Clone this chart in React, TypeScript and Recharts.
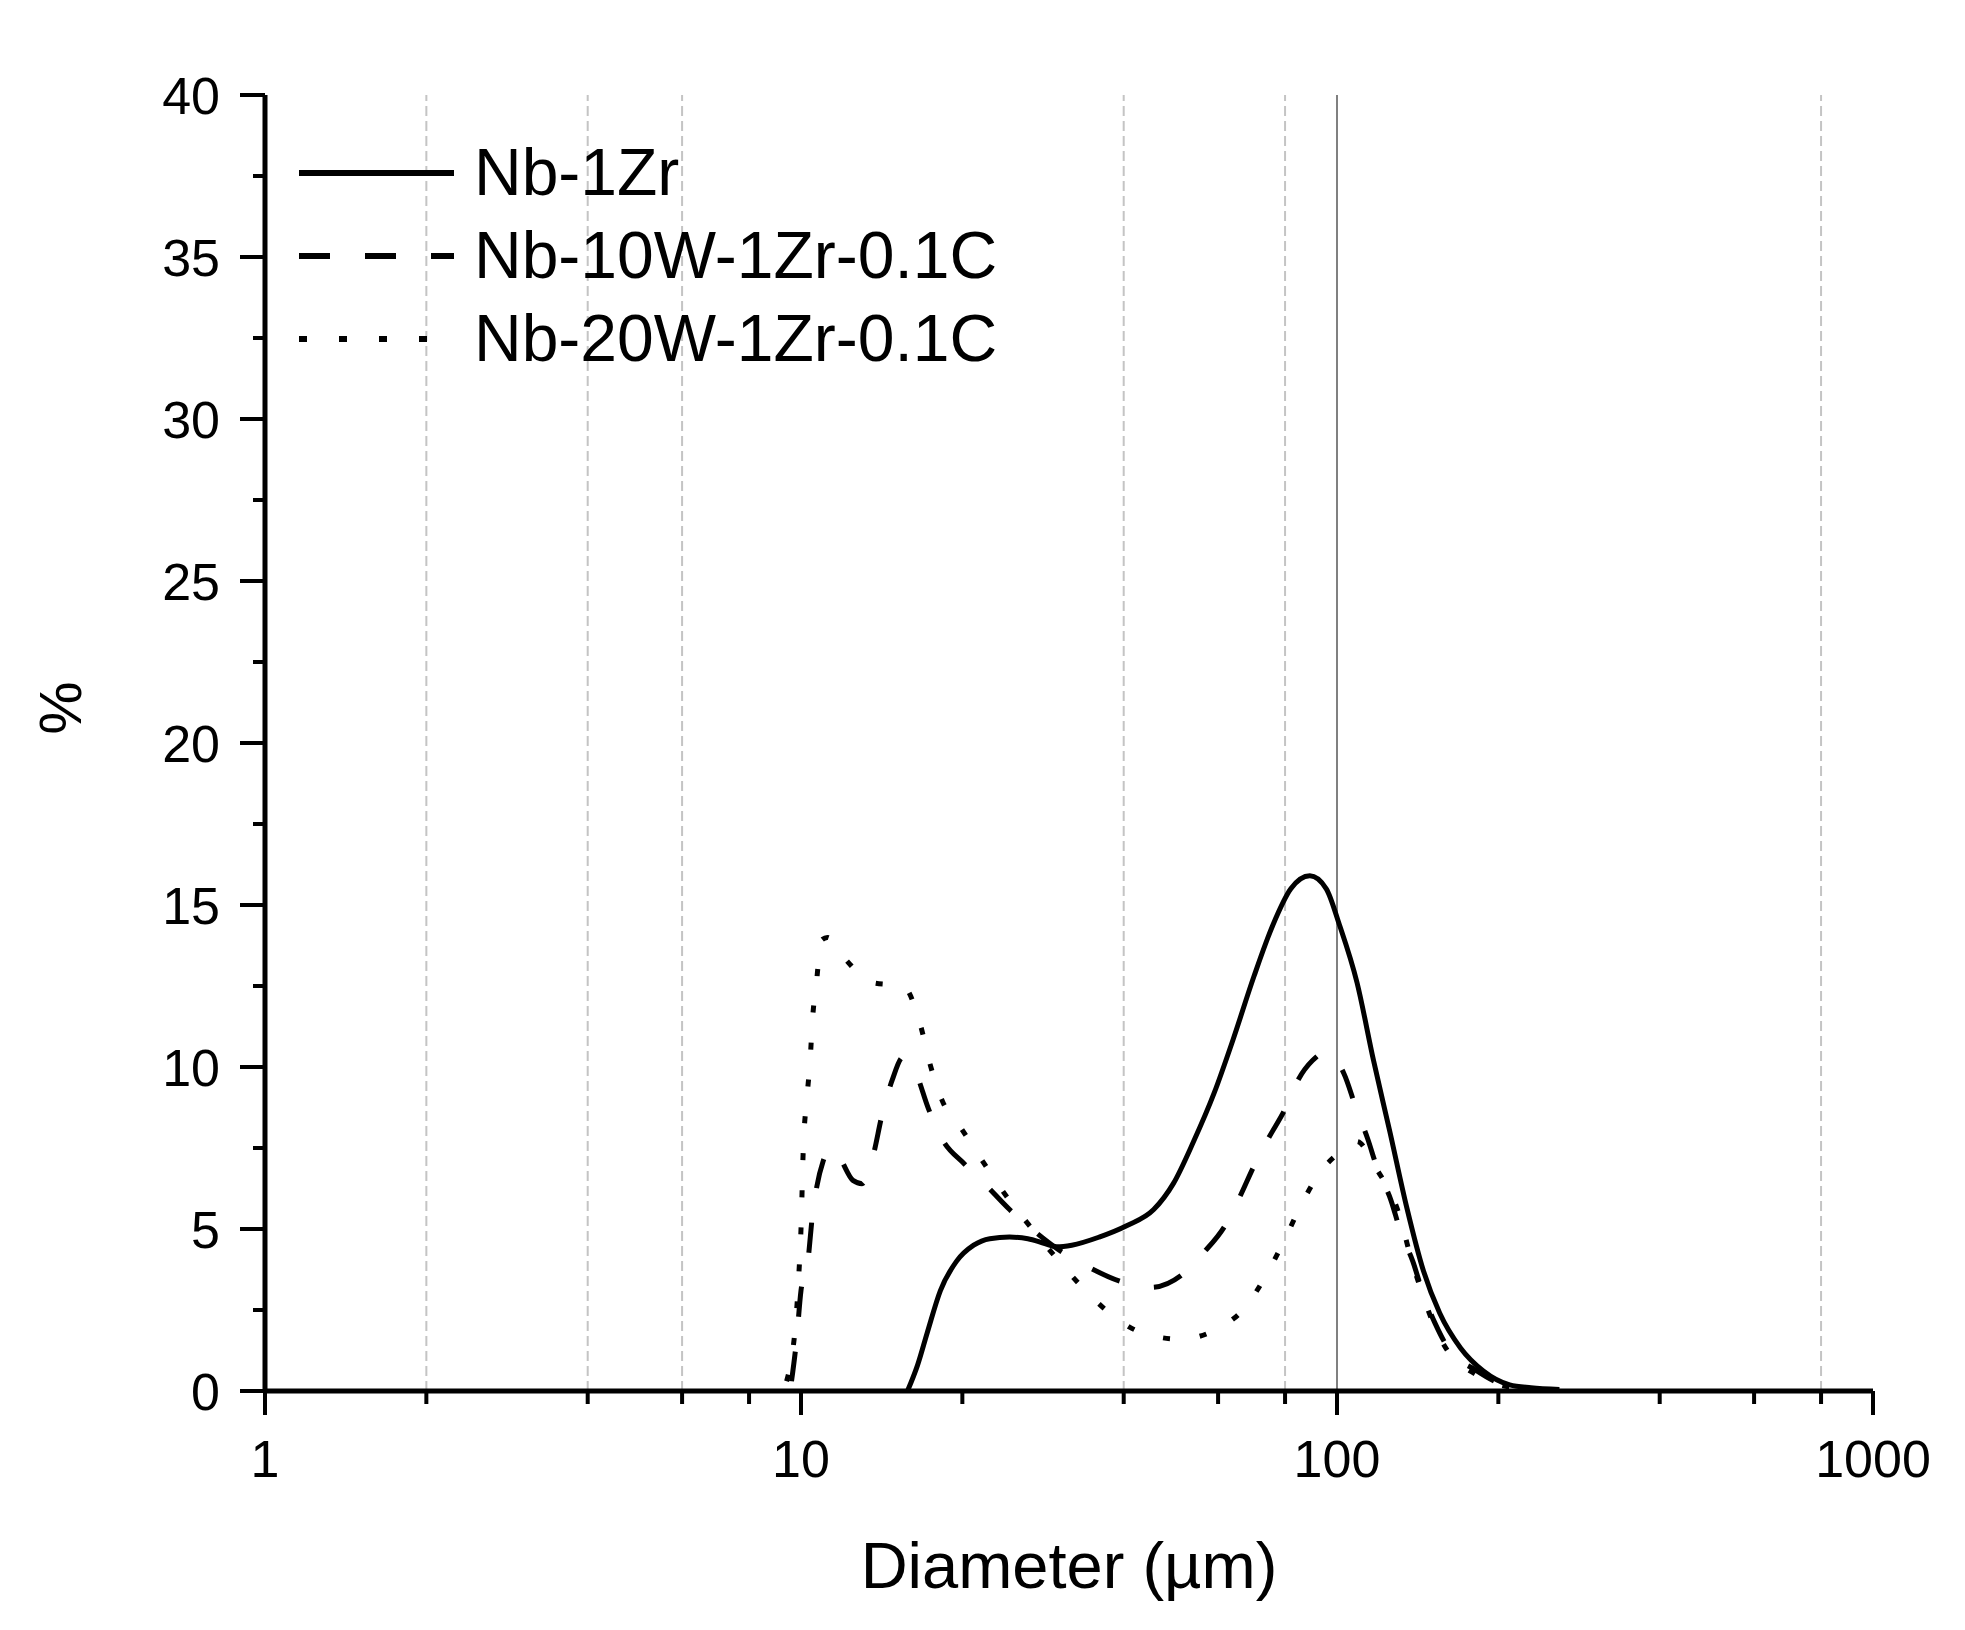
import { LineChart, Line, XAxis, YAxis, ReferenceLine, Legend, Label } from "recharts";

const FONT = "Arial, 'Liberation Sans', sans-serif";

// particle size distribution, diameter (µm) vs volume %
const nb1ZrD = [15.8, 16.5, 17.2, 18.2, 19.5, 21, 22.5, 24.5, 26.5, 28.5, 30, 32, 36, 40.5, 45.5, 49.5, 54, 59, 64, 70, 76, 82, 89, 95.5, 101, 109, 117, 125.5, 135, 145, 155.5, 170, 187.5, 210, 230, 260];
const nb1ZrV = [0, 0.8, 1.8, 3.1, 4.0, 4.5, 4.7, 4.75, 4.7, 4.55, 4.45, 4.5, 4.75, 5.1, 5.6, 6.4, 7.7, 9.2, 10.85, 12.8, 14.4, 15.5, 15.9, 15.5, 14.4, 12.6, 10.2, 8.0, 5.65, 3.7, 2.4, 1.33, 0.62, 0.19, 0.1, 0.05];

const nb10WD = [9.6, 9.8, 10, 10.3, 10.5, 10.7, 11, 11.3, 11.8, 12.5, 13, 13.6, 14.2, 14.8, 15.5, 16.3, 17.3, 18.3, 20.2, 22, 24.5, 27.4, 30, 34.6, 40, 45, 51.5, 56.3, 61.8, 65.9, 69.8, 74.5, 80, 84.6, 90, 95, 103, 108.7, 114, 119, 126, 131.5, 138.5, 145, 152.5, 163, 180, 200, 230];
const nb10WV = [0.3, 1.5, 3.1, 4.0, 5.4, 6.3, 7.1, 7.5, 7.2, 6.5, 6.4, 7.2, 8.6, 9.6, 10.3, 9.9, 8.7, 7.8, 7.0, 6.4, 5.6, 4.9, 4.4, 3.8, 3.35, 3.2, 3.6, 4.26, 5.1, 6.0, 6.9, 7.8, 8.7, 9.6, 10.2, 10.45, 9.8, 8.7, 7.8, 6.85, 5.9, 4.9, 4.0, 2.96, 2.08, 1.2, 0.68, 0.25, 0.05];

const nb20WD = [9.4, 9.6, 9.75, 9.9, 10, 10.1, 10.25, 10.4, 10.5, 10.7, 10.9, 11.2, 12, 13, 13.6, 15.5, 16.7, 17.4, 18.3, 20, 22, 24.2, 27, 29.8, 33.4, 37.7, 43.2, 51, 59, 67.3, 73.9, 79.9, 85.8, 94.5, 100, 109, 118, 130, 138, 145, 152, 163, 180, 200, 230];
const nb20WV = [0.3, 1.0, 1.9, 3.5, 5.0, 7.5, 9.0, 10.2, 11.4, 12.7, 13.9, 14.0, 13.4, 12.8, 12.6, 12.5, 11.3, 10.1, 9.0, 8.05, 7.0, 6.0, 5.0, 4.15, 3.22, 2.4, 1.8, 1.6, 1.87, 2.57, 3.6, 4.68, 5.76, 6.9, 7.3, 7.7, 6.9, 5.55, 4.0, 2.9, 2.0, 1.1, 0.55, 0.2, 0.05];

const xTicks = [1, 2, 4, 6, 8, 10, 20, 40, 60, 80, 100, 200, 400, 600, 800, 1000];
const xLabels = [1, 10, 100, 1000];
const yTicks = [0, 2.5, 5, 7.5, 10, 12.5, 15, 17.5, 20, 22.5, 25, 27.5, 30, 32.5, 35, 37.5, 40];
const dashedGrid = [2, 4, 6, 40, 80, 800];
const solidGrid = [100];

const toRows = (d: number[], v: number[]) => d.map((x, i) => ({ d: x, v: v[i] }));

const series = [
  { name: "Nb-1Zr", data: toRows(nb1ZrD, nb1ZrV), dash: undefined, legendDash: undefined },
  { name: "Nb-10W-1Zr-0.1C", data: toRows(nb10WD, nb10WV), dash: "30 35", legendDash: "31 35" },
  { name: "Nb-20W-1Zr-0.1C", data: toRows(nb20WD, nb20WV), dash: "7 30", legendDash: "8 32" },
];

const XTick = (props: any) => {
  const { x, y, payload } = props;
  const major = xLabels.includes(payload.value);
  return (
    <g>
      <line x1={x} x2={x} y1={y} y2={y + (major ? 24 : 13)} stroke="#000" strokeWidth={4} />
      {major && (
        <text x={x} y={y + 86} textAnchor="middle" fontSize={52} fontFamily={FONT} fill="#000">
          {payload.value}
        </text>
      )}
    </g>
  );
};

const YTick = (props: any) => {
  const { x, y, payload } = props;
  const major = payload.value % 5 === 0;
  return (
    <g>
      <line x1={x - (major ? 25 : 12)} x2={x} y1={y} y2={y} stroke="#000" strokeWidth={4} />
      {major && (
        <text x={x - 45} y={y} dy="0.36em" textAnchor="end" fontSize={52} fontFamily={FONT} fill="#000">
          {payload.value}
        </text>
      )}
    </g>
  );
};

const YTitle = (props: any) => {
  const vb = props.viewBox;
  const cx = vb.x - 105;
  const cy = vb.y + vb.height / 2 - 35;
  return (
    <text
      transform={`translate(${cx}, ${cy}) rotate(-90)`}
      textAnchor="middle"
      dy="0.35em"
      fontSize={60}
      fontFamily={FONT}
      fill="#000"
    >
      %
    </text>
  );
};

const LegendBox = () => (
  <div style={{ fontFamily: FONT }}>
    {series.map((s) => (
      <div key={s.name} style={{ display: "flex", alignItems: "center", height: 83 }}>
        <svg width={175} height={20} style={{ flex: "none" }}>
          <line x1={0} x2={155} y1={10} y2={10} stroke="#000" strokeWidth={6} strokeDasharray={s.legendDash} />
        </svg>
        <span style={{ fontSize: 66, lineHeight: "83px", color: "#000", whiteSpace: "nowrap" }}>{s.name}</span>
      </div>
    ))}
  </div>
);

export default function App() {
  return (
    <div style={{ position: "absolute", left: 0, top: 0, width: 1965, height: 1630, background: "#fff", fontFamily: FONT }}>
      <LineChart width={1965} height={1630} margin={{ top: 95, right: 92, left: 165, bottom: 139 }}>
        {dashedGrid.map((g) => (
          <ReferenceLine key={g} x={g} stroke="#c4c4c4" strokeWidth={2} strokeDasharray="10 5" />
        ))}
        {solidGrid.map((g) => (
          <ReferenceLine key={g} x={g} stroke="#808080" strokeWidth={2} />
        ))}
        <XAxis
          dataKey="d"
          type="number"
          scale="log"
          domain={[1, 1000]}
          allowDataOverflow
          ticks={xTicks}
          interval={0}
          tickSize={0}
          tickMargin={0}
          tickLine={false}
          tick={<XTick />}
          height={100}
          axisLine={{ stroke: "#000", strokeWidth: 5 }}
        >
          <Label value="Diameter (µm)" position="bottom" offset={51} fontSize={65} fontFamily={FONT} fill="#000" />
        </XAxis>
        <YAxis
          type="number"
          domain={[0, 40]}
          ticks={yTicks}
          interval={0}
          tickSize={0}
          tickMargin={0}
          tickLine={false}
          tick={<YTick />}
          width={100}
          axisLine={{ stroke: "#000", strokeWidth: 5 }}
        >
          <Label content={<YTitle />} />
        </YAxis>
        <Legend
          layout="vertical"
          align="center"
          verticalAlign="middle"
          content={<LegendBox />}
          wrapperStyle={{ left: 299, top: 131, width: 800, height: 250 }}
        />
        {series.map((s) => (
          <Line
            key={s.name}
            data={s.data}
            dataKey="v"
            name={s.name}
            type="monotone"
            stroke="#000"
            strokeWidth={5}
            strokeDasharray={s.dash}
            dot={false}
            activeDot={false}
            isAnimationActive={false}
          />
        ))}
      </LineChart>
    </div>
  );
}
